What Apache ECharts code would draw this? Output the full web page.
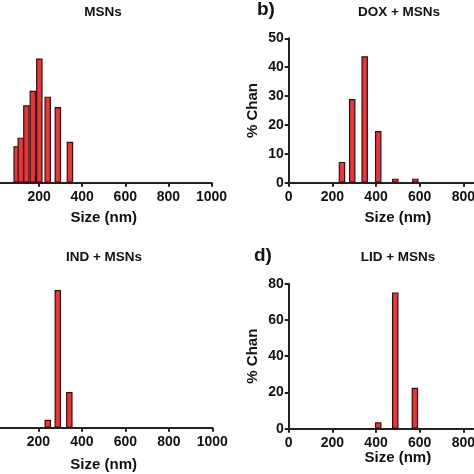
<!DOCTYPE html>
<html>
<head>
<meta charset="utf-8">
<script src="https://cdn.jsdelivr.net/npm/echarts@6/dist/echarts.min.js"></script>
<style>
  html, body { margin: 0; padding: 0; background: #fff; }
  #chart { width: 474px; height: 474px; }
</style>
</head>
<body>
<div id="chart"></div>
<script>
// size bins (nm) and % channel for each sample
var msnSize = [96, 115, 141, 171, 201, 240, 287, 343];
var msnPct = [6.3, 7.8, 13.4, 15.9, 21.5, 14.9, 13.1, 7.1];

var doxSize = [244, 291, 348, 410, 488, 580];
var doxPct = [7.2, 29, 43.8, 17.9, 1.4, 1.4];

var indSize = [243, 289, 342];
var indPct = [4.4, 76, 19.7];

var lidSize = [410, 488, 578];
var lidPct = [3.5, 75.2, 22.6];

var xTicks = [0, 200, 400, 600, 800, 1000];

var font = "Liberation Sans, Arial, sans-serif";
var ink = "#222";

function pairs(xs, ys) {
  return xs.map(function (x, i) { return [x, ys[i]]; });
}

var myChart = echarts.init(document.getElementById("chart"));

function xAxis(idx, gap) {
  return {
    gridIndex: idx,
    type: "value",
    min: xTicks[0],
    max: xTicks[xTicks.length - 1],
    interval: 200,
    name: "Size (nm)",
    nameLocation: "middle",
    nameGap: gap,
    nameTextStyle: { fontFamily: font, fontWeight: "bold", fontSize: 15, color: "#111" },
    axisLine: { show: true, onZero: false, lineStyle: { color: ink, width: 2 } },
    axisTick: { show: true, length: 4, lineStyle: { color: ink, width: 2 } },
    axisLabel: {
      margin: 7, fontFamily: font, fontWeight: "bold", fontSize: 14, color: "#111",
      formatter: function (v) { return String(v); }
    },
    splitLine: { show: false }
  };
}

function yAxis(idx, max, interval) {
  return {
    gridIndex: idx,
    type: "value",
    min: 0,
    max: max,
    interval: interval,
    name: "% Chan",
    nameLocation: "middle",
    nameGap: 28,
    nameRotate: 90,
    nameTextStyle: { fontFamily: font, fontWeight: "bold", fontSize: 15, color: "#111" },
    axisLine: { show: true, lineStyle: { color: ink, width: 2 } },
    axisTick: { show: true, length: 4, lineStyle: { color: ink, width: 2 } },
    axisLabel: { margin: 5, fontFamily: font, fontWeight: "bold", fontSize: 14, color: "#111" },
    splitLine: { show: false }
  };
}

function bars(idx, xs, ys) {
  return {
    type: "bar",
    xAxisIndex: idx,
    yAxisIndex: idx,
    barWidth: 6.5,
    data: pairs(xs, ys),
    itemStyle: { color: "#e2393e", borderColor: "#3a0b0b", borderWidth: 1.2 }
  };
}

function grid(left, top, width, height) {
  return { left: left, top: top, width: width, height: height, containLabel: false, outerBoundsMode: "none" };
}

var titleStyle = { fontFamily: font, fontWeight: "bold", fontSize: 13.5, color: "#111" };
var tagStyle = { fontFamily: font, fontWeight: "bold", fontSize: 19, color: "#111" };

function title(text, left, top, style, align) {
  return { text: text, left: left, top: top, padding: 0, textAlign: align || "left", textStyle: style };
}

var option = {
  animation: false,
  backgroundColor: "#fff",
  title: [
    title("MSNs", 103, 5, titleStyle, "center"),
    title("DOX + MSNs", 399, 5, titleStyle, "center"),
    title("b)", 257, 0, tagStyle),
    title("IND + MSNs", 104, 250, titleStyle, "center"),
    title("LID + MSNs", 398, 250, titleStyle, "center"),
    title("d)", 254, 246, tagStyle)
  ],
  grid: [
    grid(-4, 38.3, 215.5, 144.4),
    grid(288.7, 38.3, 218.3, 144.4),
    grid(-5, 282.7, 217.3, 145),
    grid(288.7, 283.7, 218.3, 145)
  ],
  xAxis: [xAxis(0, 28), xAxis(1, 28), xAxis(2, 29.5), xAxis(3, 19)],
  yAxis: [yAxis(0, 25, 5), yAxis(1, 50, 10), yAxis(2, 80, 20), yAxis(3, 80, 20)],
  series: [
    bars(0, msnSize, msnPct),
    bars(1, doxSize, doxPct),
    bars(2, indSize, indPct),
    bars(3, lidSize, lidPct)
  ]
};

myChart.setOption(option);
</script>
</body>
</html>
